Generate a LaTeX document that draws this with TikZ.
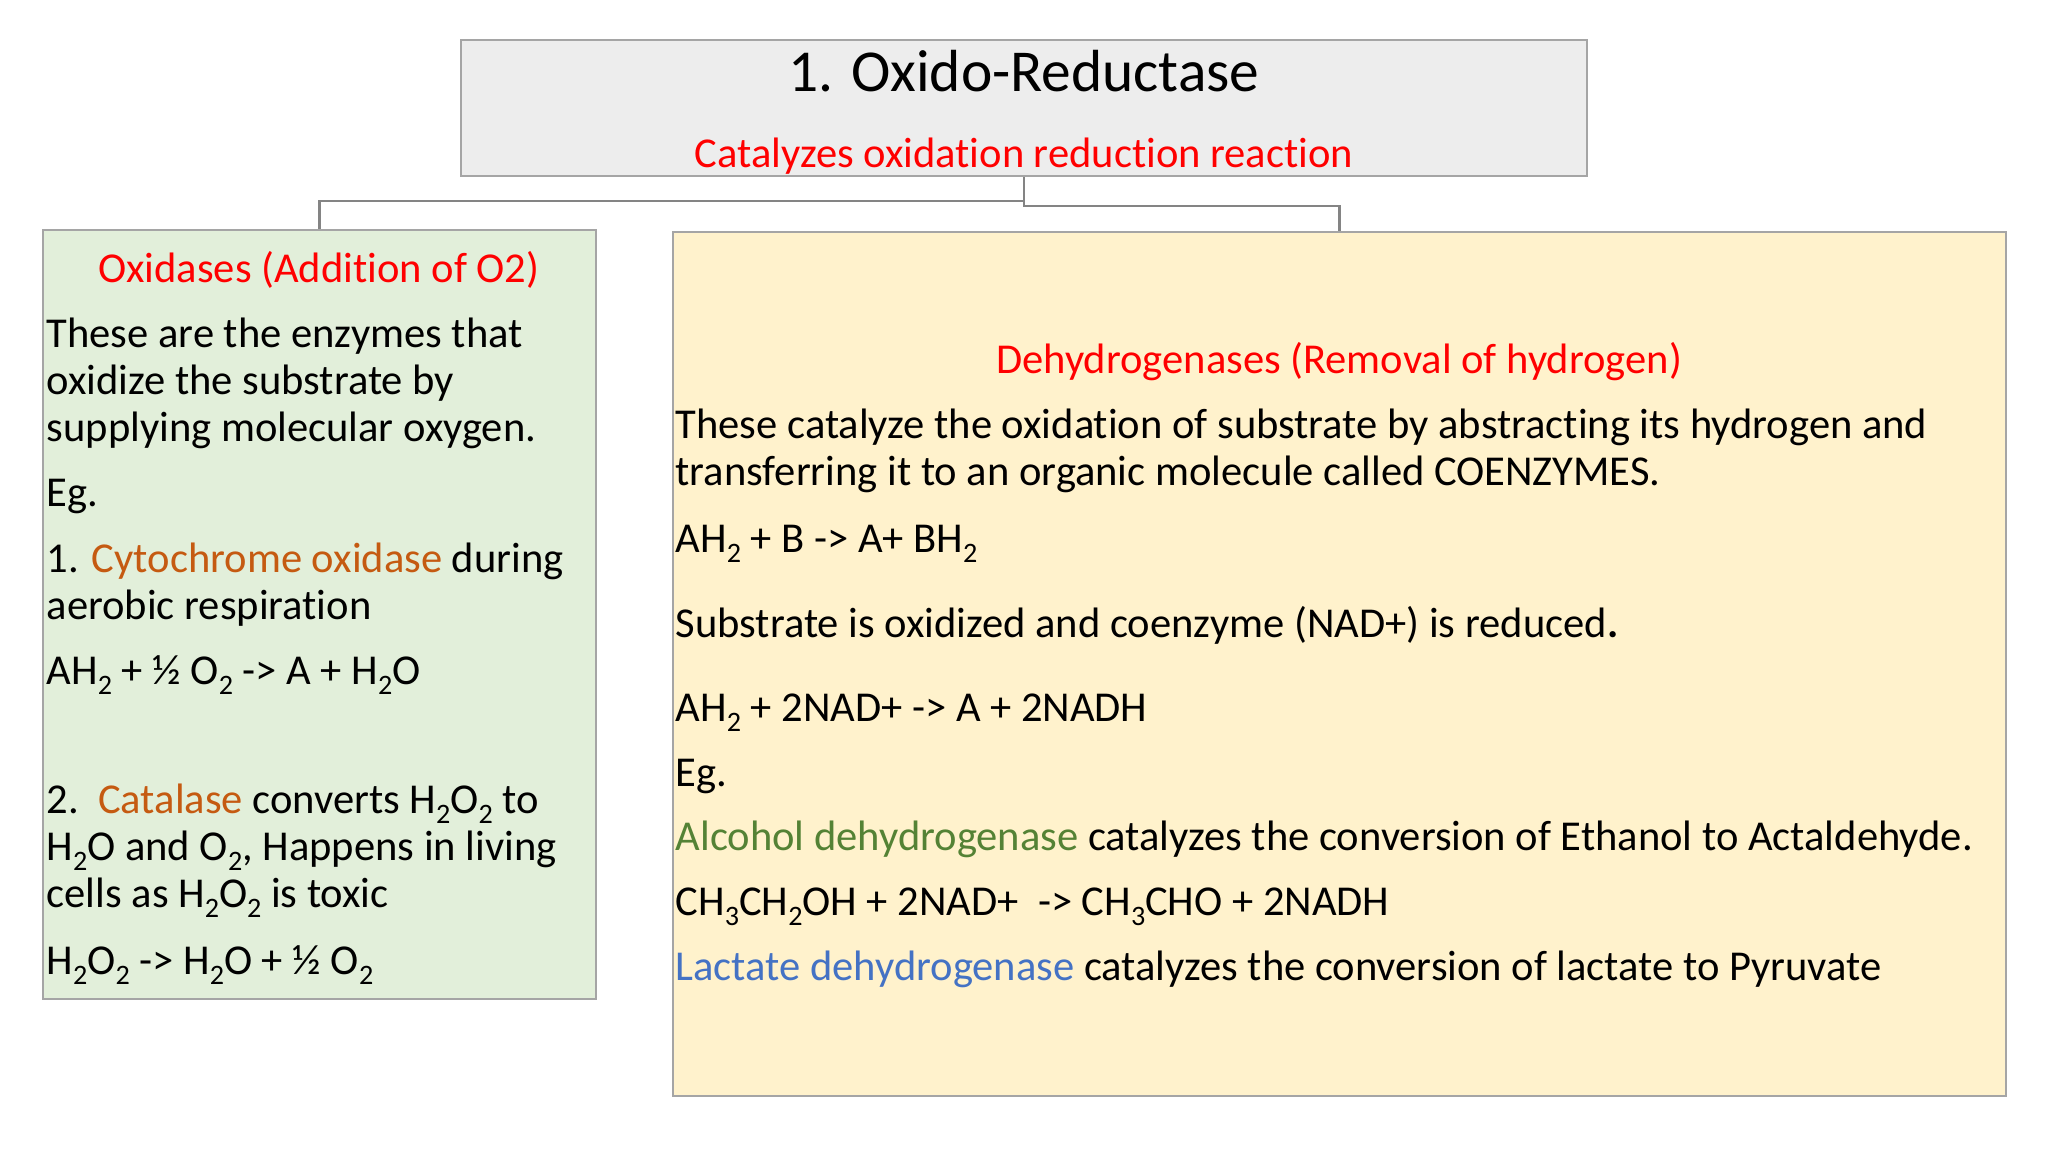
\documentclass[tikz,border=0pt]{standalone}
\usepackage{fontspec}
\setmainfont{Carlito}[Ligatures=NoCommon]
\definecolor{framegray}{HTML}{A5A5A5}
\definecolor{topfill}{HTML}{EDEDED}
\definecolor{greenfill}{HTML}{E2EFDA}
\definecolor{yellowfill}{HTML}{FFF2CC}
\definecolor{headred}{HTML}{FF0000}
\definecolor{enzorange}{HTML}{C55A11}
\definecolor{enzgreen}{HTML}{548235}
\definecolor{enzblue}{HTML}{4472C4}
\newcommand{\lowsub}[1]{\raisebox{-0.45ex}{\fontsize{8}{9.6}\selectfont #1}}
\begin{document}
\begin{tikzpicture}[
 x=0.01cm, y=-0.01cm,
 font=\fontsize{12.1}{14.5}\selectfont,
 box/.style={draw=framegray,line width=0.6pt,rectangle,inner sep=0},
 link/.style={draw=framegray!80!black,line width=0.6pt},
 line/.style={anchor=west,inner sep=0,text height=1.3ex,text depth=0pt},
 head/.style={inner sep=0,text height=1.3ex,text depth=0pt,text=headred}
]
\useasboundingbox (0,0) rectangle (2048,1152);
\node (top-box) [box,fill=topfill,minimum width=11.26cm,minimum height=1.36cm] at (1024,108) {};
\node (oxidases-box) [box,fill=greenfill,minimum width=5.53cm,minimum height=7.69cm] at (319.5,614.5) {};
\node (dehydro-box) [box,fill=yellowfill,minimum width=13.33cm,minimum height=8.64cm] at (1339.5,664) {};
\draw[link] (top-box.south) -- ++(0,24) -| (oxidases-box.north);
\draw[link] (top-box.south) -- ++(0,29) -| (dehydro-box.north);

\node (title) [inner sep=0,text height=1.3ex,text depth=0pt,font=\fontsize{16.9}{20}\selectfont] at (1024,81) {1. Oxido-Reductase};
\node (subtitle) [head] at (1024,157) {Catalyzes oxidation reduction reaction};

\node (ox-head) [head] at (319,272) {Oxidases (Addition of O2)};
\node (ox-1) [line] at (46,337) {These are the enzymes that};
\node (ox-2) [line] at (46,384) {oxidize the substrate by};
\node (ox-3) [line] at (46,431) {supplying molecular oxygen.};
\node (ox-4) [line] at (46,496) {Eg.};
\node (ox-5) [line] at (46,562) {1. \textcolor{enzorange}{Cytochrome oxidase} during};
\node (ox-6) [line] at (46,609) {aerobic respiration};
\node (ox-7) [line] at (46,674) {AH\lowsub{2} + ½ O\lowsub{2} -> A + H\lowsub{2}O};
\node (ox-8) [line] at (46,803) {2.\ \ \textcolor{enzorange}{Catalase} converts H\lowsub{2}O\lowsub{2} to};
\node (ox-9) [line] at (46,850) {H\lowsub{2}O and O\lowsub{2}, Happens in living};
\node (ox-10) [line] at (46,897) {cells as H\lowsub{2}O\lowsub{2} is toxic};
\node (ox-11) [line] at (46,964) {H\lowsub{2}O\lowsub{2} -> H\lowsub{2}O + ½ O\lowsub{2}};

\node (de-head) [head] at (1339,363) {Dehydrogenases (Removal of hydrogen)};
\node (de-1) [line] at (675,428) {These catalyze the oxidation of substrate by abstracting its hydrogen and};
\node (de-2) [line] at (675,475) {transferring it to an organic molecule called COENZYMES.};
\node (de-3) [line] at (675,542) {AH\lowsub{2} + B -> A+ BH\lowsub{2}};
\node (de-4) [line] at (675,627) {Substrate is oxidized and coenzyme (NAD+) is reduced{\bfseries\large .}};
\node (de-5) [line] at (675,711) {AH\lowsub{2} + 2NAD+ -> A + 2NADH};
\node (de-6) [line] at (675,776) {Eg.};
\node (de-7) [line] at (675,840) {\textcolor{enzgreen}{Alcohol dehydrogenase} catalyzes the conversion of Ethanol to Actaldehyde.};
\node (de-8) [line] at (675,905) {CH\lowsub{3}CH\lowsub{2}OH + 2NAD+\ \ -> CH\lowsub{3}CHO + 2NADH};
\node (de-9) [line] at (675,970) {\textcolor{enzblue}{Lactate dehydrogenase} catalyzes the conversion of lactate to Pyruvate};
\end{tikzpicture}
\end{document}
